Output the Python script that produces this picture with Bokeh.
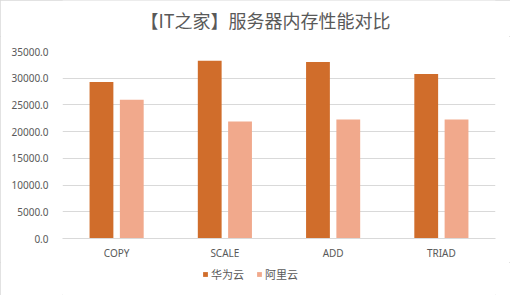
from bokeh.plotting import figure
from bokeh.models import FactorRange, FixedTicker, NumeralTickFormatter, Legend, LegendItem, Label
from bokeh.transform import dodge
from bokeh.layouts import column
from bokeh.embed import file_html
from bokeh.resources import INLINE

categories = ["COPY", "SCALE", "ADD", "TRIAD"]
huawei = [29300, 33250, 33050, 30800]
aliyun = [25950, 21900, 22250, 22250]
series_names = ["华为云", "阿里云"]
colors = ["#D06D2B", "#F1A98C"]
y_ticks = [0, 5000, 10000, 15000, 20000, 25000, 30000, 35000]
title_text = "【IT之家】服务器内存性能对比"

src = dict(cat=categories, huawei=huawei, aliyun=aliyun)
font = "Noto Sans CJK SC"


def blank(h):
    f = figure(width=510, height=h, x_range=(0, 1), y_range=(0, 1),
               output_backend="svg", toolbar_location=None,
               min_border_left=0, min_border_right=0, min_border_top=0, min_border_bottom=0)
    f.axis.visible = False
    f.grid.visible = False
    f.outline_line_color = None
    return f


# title strip
head = blank(36)
head.add_layout(Label(x=0.469, y=0.45, text=title_text, text_align="center",
                      text_baseline="middle", text_font=font, text_font_size="18px",
                      text_color="#595959"))

# main chart
p = figure(width=510, height=226, x_range=FactorRange(*categories), y_range=(0, 35000),
           output_backend="svg", toolbar_location=None,
           min_border_left=62, min_border_right=15, min_border_top=15, min_border_bottom=24)

p.vbar(x=dodge("cat", -0.14, range=p.x_range), top="huawei", width=0.22, source=src,
       fill_color=colors[0], line_color=None)
p.vbar(x=dodge("cat", 0.14, range=p.x_range), top="aliyun", width=0.22, source=src,
       fill_color=colors[1], line_color=None)

p.outline_line_color = None
p.xgrid.grid_line_color = None
p.ygrid.grid_line_color = "#D9D9D9"
p.ygrid.ticker = FixedTicker(ticks=y_ticks)

p.yaxis.ticker = FixedTicker(ticks=y_ticks)
p.yaxis.formatter = NumeralTickFormatter(format="0.0")
p.yaxis.axis_line_color = None
p.yaxis.major_tick_line_color = None
p.yaxis.minor_tick_line_color = None
p.yaxis.major_tick_out = 0
p.yaxis.major_label_text_font = "Noto Sans"
p.yaxis.major_label_text_font_size = "10px"
p.yaxis.major_label_text_color = "#595959"
p.yaxis.major_label_standoff = 14

p.xaxis.axis_line_color = "#D9D9D9"
p.xaxis.major_tick_line_color = None
p.xaxis.minor_tick_line_color = None
p.xaxis.major_tick_out = 0
p.xaxis.major_label_text_font = "Noto Sans"
p.xaxis.major_label_text_font_size = "10px"
p.xaxis.major_label_text_color = "#595959"
p.xaxis.major_label_standoff = 7

# legend strip below the chart (hidden proxy bars, only legend glyphs show)
q = figure(width=510, height=33, x_range=FactorRange(*categories), y_range=(-2, -1),
           output_backend="svg", toolbar_location=None,
           min_border_left=0, min_border_right=0, min_border_top=0, min_border_bottom=0)
q.axis.visible = False
q.grid.visible = False
q.outline_line_color = None
l1 = q.vbar(x=dodge("cat", -0.14, range=q.x_range), top="huawei", width=0.22, source=src,
            fill_color=colors[0], line_color=None)
l2 = q.vbar(x=dodge("cat", 0.14, range=q.x_range), top="aliyun", width=0.22, source=src,
            fill_color=colors[1], line_color=None)
l1.visible = False
l2.visible = False
legend = Legend(items=[LegendItem(label=series_names[0], renderers=[l1]),
                       LegendItem(label=series_names[1], renderers=[l2])],
                orientation="horizontal", location=(140, 13),
                glyph_width=6, glyph_height=6, label_text_font=font,
                label_text_font_size="11px", label_text_color="#595959",
                border_line_color=None, background_fill_alpha=0, spacing=12,
                label_standoff=3, padding=2, margin=0)
q.add_layout(legend, "center")

layout = column(head, p, q, spacing=0)
layout.styles = {"outline": "1px solid #D9D9D9", "outline-offset": "-1px"}
open("out.html", "w").write(file_html(layout, INLINE))
